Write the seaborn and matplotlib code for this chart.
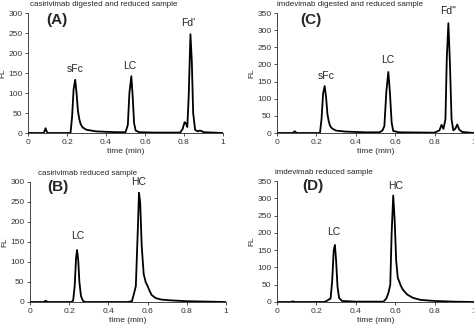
import matplotlib
matplotlib.use("Agg")
import matplotlib.pyplot as plt
import seaborn as sns
import pandas as pd

sns.set_theme(style="ticks")
plt.rcParams['font.family'] = ['Liberation Sans', 'DejaVu Sans']

# Panel A: casirivimab digested and reduced
A_t = [0, 0.08, 0.085, 0.09, 0.095, 0.10, 0.218, 0.226, 0.234, 0.242, 0.249, 0.256, 0.263, 0.27, 0.28,
       0.30, 0.35, 0.45, 0.50, 0.512, 0.52, 0.53, 0.537, 0.544, 0.552, 0.57, 0.65, 0.78, 0.793, 0.803,
       0.81, 0.817, 0.824, 0.833, 0.84, 0.847, 0.857, 0.87, 0.88, 0.89, 0.90, 0.95, 1.0]
A_fl = [0, 0, 5, 12, 5, 0, 0, 40, 110, 133, 100, 55, 35, 22, 14,
        8, 4, 2, 2, 20, 100, 142, 90, 25, 6, 2, 1, 1, 10, 27,
        24, 15, 90, 247, 180, 50, 8, 4, 6, 5, 2, 1, 0]

# Panel B: casirivimab reduced
B_t = [0, 0.07, 0.08, 0.09, 0.21, 0.22, 0.228, 0.235, 0.24, 0.246, 0.252, 0.26, 0.27, 0.28, 0.50,
       0.52, 0.53, 0.54, 0.55, 0.556, 0.562, 0.57, 0.58, 0.59, 0.60, 0.61, 0.62, 0.64, 0.67, 0.72,
       0.8, 0.9, 1.0]
B_fl = [0, 0, 3, 0, 0, 3, 40, 110, 130, 105, 50, 15, 3, 0, 0,
        2, 20, 40, 180, 273, 250, 140, 70, 50, 40, 28, 18, 10, 6, 4,
        2, 1, 0]

# Panel C: imdevimab digested and reduced
C_t = [0, 0.08, 0.09, 0.10, 0.218, 0.226, 0.234, 0.242, 0.249, 0.256, 0.263, 0.27, 0.28, 0.30, 0.35,
       0.45, 0.52, 0.535, 0.545, 0.555, 0.565, 0.573, 0.582, 0.59, 0.62, 0.80, 0.825, 0.835, 0.845,
       0.855, 0.862, 0.87, 0.878, 0.886, 0.895, 0.905, 0.915, 0.925, 0.94, 1.0]
C_fl = [0, 0, 5, 0, 0, 40, 115, 137, 105, 55, 33, 20, 13, 7, 4,
        2, 2, 7, 20, 120, 178, 120, 30, 6, 2, 1, 8, 24, 12,
        40, 220, 320, 200, 40, 8, 12, 25, 10, 3, 0]

# Panel D: imdevimab reduced
D_t = [0, 0.07, 0.08, 0.09, 0.24, 0.255, 0.265, 0.272, 0.28, 0.288, 0.294, 0.30, 0.307, 0.315, 0.33,
       0.40, 0.54, 0.555, 0.565, 0.575, 0.582, 0.59, 0.597, 0.605, 0.613, 0.62, 0.63, 0.64, 0.66,
       0.69, 0.73, 0.80, 0.9, 1.0]
D_fl = [0, 0, 2, 0, 0, 4, 8, 10, 60, 150, 165, 120, 45, 12, 3,
        1, 1, 10, 25, 50, 200, 308, 240, 120, 70, 60, 45, 35, 22,
        12, 6, 3, 1, 0]

titles = ["casirivimab digested and reduced sample", "imdevimab digested and reduced sample",
          "casirivimab reduced sample", "imdevimab reduced sample"]
panel_labels = ["(A)", "(C)", "(B)", "(D)"]
ymax = [300, 350, 300, 350]
ysteps = [50, 50, 50, 50]
peak_labels = [
    [("sFc", 0.24, 148), ("LC", 0.52, 156), ("Fd'", 0.82, 262)],
    [("sFc", 0.25, 152), ("LC", 0.56, 198), ("Fd\"", 0.87, 342)],
    [("LC", 0.245, 152), ("HC", 0.556, 288)],
    [("LC", 0.29, 188), ("HC", 0.60, 320)],
]
panel_pos = [(0.15, 282), (0.17, 330), (0.14, 287), (0.18, 335)]
title_x = [0.01, 0.0, 0.04, -0.01]

traces = [(A_t, A_fl), (C_t, C_fl), (B_t, B_fl), (D_t, D_fl)]
axes_rects = [
    [28/474, 1-133/326, 195/474, 120/326],
    [277/474, 1-133/326, 197/474, 120/326],
    [30/474, 1-302/326, 196/474, 120/326],
    [277/474, 1-302/326, 197/474, 121/326],
]

fig = plt.figure(figsize=(4.74, 3.26), dpi=100)
for i in range(4):
    ax = fig.add_axes(axes_rects[i])
    t, fl = traces[i]
    df = pd.DataFrame({"time": t, "FL": fl})
    sns.lineplot(data=df, x="time", y="FL", ax=ax, color="black", linewidth=1.3, sort=False)
    ax.set_xlim(0, 1)
    ax.set_ylim(0, ymax[i])
    ax.set_xticks([0, 0.2, 0.4, 0.6, 0.8, 1])
    ax.set_xticklabels(["0", "0.2", "0.4", "0.6", "0.8", "1"])
    ax.set_yticks(list(range(0, ymax[i] + 1, ysteps[i])))
    ax.tick_params(axis="both", labelsize=6, length=2, width=0.6, pad=2, colors="#333333")
    ax.set_xlabel("time (min)", fontsize=6, labelpad=2)
    ax.set_ylabel("FL", fontsize=6, labelpad=1)
    for s in ["top", "right"]:
        ax.spines[s].set_visible(False)
    for s in ["left", "bottom"]:
        ax.spines[s].set_linewidth(0.6)
    ax.text(title_x[i], 1.045, titles[i], fontsize=5.8, ha="left", va="bottom",
            transform=ax.transAxes)
    for (lab, x, y) in peak_labels[i]:
        ax.text(x, y, lab, fontsize=7.5, ha="center", va="bottom", clip_on=False)
    px, py = panel_pos[i]
    ax.text(px, py, panel_labels[i], fontsize=11, fontweight="bold", ha="center", va="center")

fig.savefig("out.png", dpi=100)
